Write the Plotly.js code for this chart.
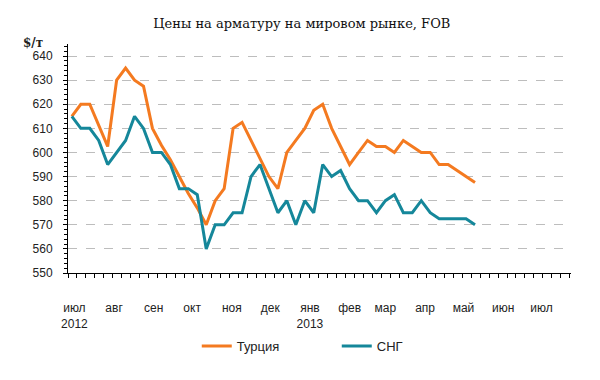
<!DOCTYPE html>
<html>
<head>
<meta charset="utf-8">
<script src="https://cdn.plot.ly/plotly-3.0.1.min.js"></script>
<style>html,body{margin:0;padding:0;background:#fff;}#chart{width:600px;height:380px;}</style>
</head>
<body>
<div id="chart"></div>
<script>
var dates = ["2012-06-29","2012-07-06","2012-07-13","2012-07-20","2012-07-27","2012-08-03","2012-08-10","2012-08-17","2012-08-24","2012-08-31",
"2012-09-07","2012-09-14","2012-09-21","2012-09-28","2012-10-05","2012-10-12","2012-10-19","2012-10-26","2012-11-02","2012-11-09",
"2012-11-16","2012-11-23","2012-11-30","2012-12-07","2012-12-14","2012-12-21","2012-12-28","2013-01-04","2013-01-11","2013-01-18",
"2013-01-25","2013-02-01","2013-02-08","2013-02-15","2013-02-22","2013-03-01","2013-03-08","2013-03-15","2013-03-22","2013-03-29",
"2013-04-05","2013-04-12","2013-04-19","2013-04-26","2013-05-03","2013-05-10"];
var turkey = [615,620,620,611,602.5,630,635,630,627.5,610,
603,597,590,583,577,570,580,585,610,612.5,
605,597.5,590,585,600,605,610,617.5,620,610,
602.5,595,600,605,602.5,602.5,600,605,602.5,600,
600,595,595,592.5,590,587.5];
var cis = [615,610,610,605,595,600,605,615,610,600,
600,595,585,585,582.5,560,570,570,575,575,
590,595,585,575,580,570,580,575,595,590,
592.5,585,580,580,575,580,582.5,575,575,580,
575,572.5,572.5,572.5,572.5,570];
var tickDates = ["2012-07-01","2012-08-01","2012-09-01","2012-10-01","2012-11-01","2012-12-01","2013-01-01","2013-02-01","2013-03-01","2013-04-01","2013-05-01","2013-06-01","2013-07-01"];
var tickLabels = ["июл<br>2012","авг","сен","окт","ноя","дек","янв<br>2013","фев","мар","апр","май","июн","июл"];
var seriesNames = ["Турция","СНГ"];
var titleText = "Цены на арматуру на мировом рынке, FOB";
var yUnit = "$/т";

var traces = [
  {x: dates, y: turkey, name: seriesNames[0], type: "scatter", mode: "lines", line: {color: "#F47A20", width: 3}},
  {x: dates, y: cis, name: seriesNames[1], type: "scatter", mode: "lines", line: {color: "#15879A", width: 3}}
];
var layout = {
  width: 600, height: 380,
  margin: {l: 68, r: 29, t: 44, b: 106.5},
  paper_bgcolor: "#fff", plot_bgcolor: "#fff",
  showlegend: true,
  title: {text: titleText, font: {family: "DejaVu Serif", size: 13, color: "#111"}, x: 0.503, xanchor: "center", y: 0.937, yanchor: "middle"},
  xaxis: {
    type: "date", range: ["2012-06-26", "2013-07-24"],
    tickmode: "array", tickvals: tickDates, ticktext: tickLabels,
    ticks: "", showgrid: false, zeroline: false,
    showline: true, linecolor: "#000", linewidth: 1,
    tickfont: {family: "Liberation Sans", size: 12, color: "#222"},
    ticklabelstandoff: 24,
    minor: {ticks: "outside", ticklen: 4, tickcolor: "#000", tickwidth: 1, dtick: 604800000, tick0: "2012-06-26", showgrid: false}
  },
  yaxis: {
    range: [550, 645], dtick: 10, tick0: 0,
    ticks: "outside", ticklen: 4, tickcolor: "#000",
    showline: true, linecolor: "#000", linewidth: 1,
    showgrid: true, gridcolor: "#BDBDBD", griddash: "dash", gridwidth: 1,
    zeroline: false,
    tickfont: {family: "Liberation Sans", size: 12, color: "#222"},
    ticklabelstandoff: 8,
    minor: {ticks: "outside", ticklen: 3, tickcolor: "#000", dtick: 2, showgrid: false}
  },
  legend: {orientation: "h", x: 0.256, xanchor: "left", y: -0.319, yanchor: "middle",
    font: {family: "Liberation Sans", size: 13, color: "#222"}, entrywidth: 95, itemwidth: 30},
  annotations: [
    {text: "<b>" + yUnit + "</b>", xref: "paper", yref: "paper", x: -0.07, y: 1.0, xanchor: "center", yanchor: "middle", yshift: 1, showarrow: false,
     font: {family: "DejaVu Serif", size: 12, color: "#222"}}
  ]
};
Plotly.newPlot("chart", traces, layout, {displayModeBar: false, staticPlot: true});
</script>
</body>
</html>
